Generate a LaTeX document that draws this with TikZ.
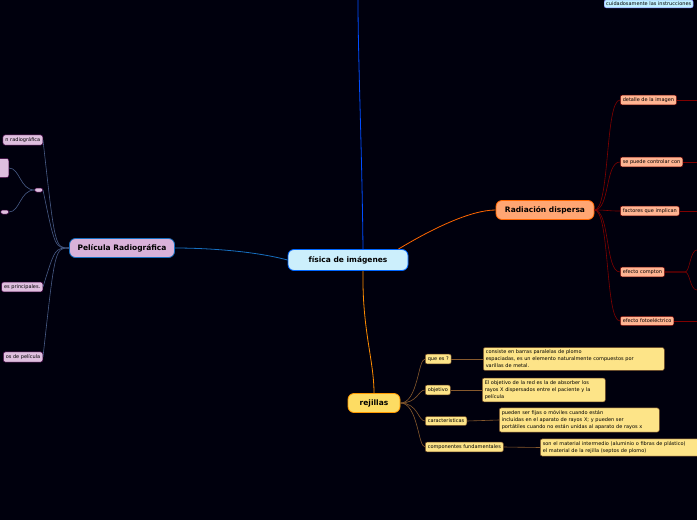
\documentclass[tikz,border=0pt]{standalone}
\usepackage{fontspec}
\setmainfont{DejaVu Sans}
\begin{document}
\begin{tikzpicture}[x=1pt,y=-1pt,
  base/.style={rounded corners=2pt,font=\fontsize{5}{7}\selectfont,text=black,inner sep=2.5pt,align=left},
  rad/.style={base,fill=orange!30!pink!90!white,draw=red!40!black,line width=0.5pt},
  pel/.style={base,fill=violet!25,draw=violet!50!black,line width=0.5pt},
  rej/.style={base,fill=yellow!60!orange!45!white,draw=brown!60!black,line width=0.5pt},
  main/.style={rounded corners=6pt,font=\bfseries\fontsize{7.5}{9}\selectfont,text=black,inner sep=4pt,line width=0.8pt},
  rl/.style={draw=red!50!black,line width=0.6pt},
  pl/.style={draw=cyan!40!blue!60!black,line width=0.6pt},
  yl/.style={draw=brown!70!black,line width=0.6pt}]
\fill[black!95!blue] (0,0) rectangle (697,520);
\useasboundingbox (0,0) rectangle (697,520);
% main
\node[main,fill=cyan!20,draw=blue!60!cyan,minimum width=120pt,minimum height=21pt] (c) at (348,260) {física de imágenes};
\node[main,fill=orange!40!pink,draw=orange!80!red,minimum width=98pt,minimum height=19pt] (r) at (545,210) {Radiación dispersa};
\node[main,fill=violet!30,draw=cyan!50!blue,minimum width=105pt,minimum height=19pt] (p) at (122,248) {Película Radiográfica};
\node[main,fill=yellow!60!orange!60,draw=orange!80!yellow,minimum width=52pt,minimum height=19pt] (j) at (374,403) {rejillas};
\node[base,fill=blue!25!cyan!25,draw=blue!50,anchor=south west,inner sep=2pt] (t) at (604,8) {cuidadosamente las instrucciones};
\coordinate (top) at (358,0);
\draw[draw=blue!70!cyan,line width=0.8pt] (c.north) ++(15,0) .. controls (362,150) and (358,60) .. (top);
\draw[draw=orange!80!red,line width=0.8pt] (c.north east) ++(-10,0) .. controls (430,230) and (470,210) .. (r.west);
\draw[draw=cyan!50!blue,line width=0.8pt] (c.west) .. controls (250,250) and (200,248) .. (p.east);
\draw[draw=orange!90!yellow,line width=0.8pt] (c.south) ++(15,0) .. controls (362,330) and (374,360) .. (j.north);
% radiacion children
\foreach \n/\y/\t in {r1/100/detalle de la imagen, r2/162/se puede controlar con, r3/211/factores que implican, r4/272/efecto compton, r5/321/efecto fotoeléctrico}{
  \node[rad,anchor=west] (\n) at (620,\y) {\t};
  \draw[rl] (r.east) .. controls (610,210) and (605,\y) .. (\n.west);
}
\foreach \n/\y in {r1/100,r2/162,r3/211,r5/321}{
  \coordinate (\n e) at (697,\y);
  \draw[rl] (\n.east) -- (\n e);}
\coordinate (c1) at (697,250);\coordinate (c2) at (697,290);
\draw[rl] (r4.east) -- (685,272) .. controls (690,272) and (690,250) .. (c1);
\draw[rl] (r4.east) -- (685,272) .. controls (690,272) and (690,290) .. (c2);
% pelicula children
\node[pel,anchor=east] (p1) at (43,140) {n radiográfica};
\node[pel,anchor=east,minimum height=19pt,minimum width=20pt] (p2) at (9,168) {};
\node[pel,anchor=east,minimum width=8pt,minimum height=4pt,inner sep=0pt] (p3) at (43,190) {};
\node[pel,anchor=east,minimum width=8pt,minimum height=4pt,inner sep=0pt] (p4) at (9,212) {};
\node[pel,anchor=east] (p5) at (43,287) {es principales.};
\node[pel,anchor=east] (p6) at (43,357) {os de película};
\foreach \n in {p1,p3,p5,p6}{\draw[pl] (p.west) .. controls (55,248) and (55,248) .. (\n.east);}
\draw[pl] (p3.west) .. controls (20,190) and (20,168) .. (p2.east);
\draw[pl] (p3.west) .. controls (20,190) and (20,212) .. (p4.east);
% rejillas children
\foreach \n/\y/\t in {j1/359/que es ?, j2/390/objetivo, j3/421/caracteristicas, j4/447/componentes fundamentales}{
  \node[rej,anchor=west] (\n) at (425,\y) {\t};
  \draw[yl] (j.east) .. controls (418,403) and (418,\y) .. (\n.west);
}
\node[rej,anchor=west,text width=176pt] (d1) at (483,359) {consiste en barras paralelas de plomo\\espaciadas, es un elemento naturalmente compuestos por\\varillas de metal.};
\node[rej,anchor=west,text width=118pt] (d2) at (482,390) {El objetivo de la red es la de absorber los\\rayos X dispersados entre el paciente y la\\película};
\node[rej,anchor=west,text width=155pt] (d3) at (499,420) {pueden ser fijas o móviles cuando están\\incluidas en el aparato de rayos X; y pueden ser\\portátiles cuando no están unidas al aparato de rayos x};
\node[rej,anchor=west,text width=170pt] (d4) at (540,447.5) {son el material intermedio  (aluminio o fibras de plástico)\\el material de la rejilla (septos de plomo)};
\draw[yl] (j1.east) -- (d1.west);
\draw[yl] (j2.east) -- (d2.west);
\draw[yl] (j3.east) -- (d3.west);
\draw[yl] (j4.east) -- (d4.west);
\end{tikzpicture}
\end{document}
